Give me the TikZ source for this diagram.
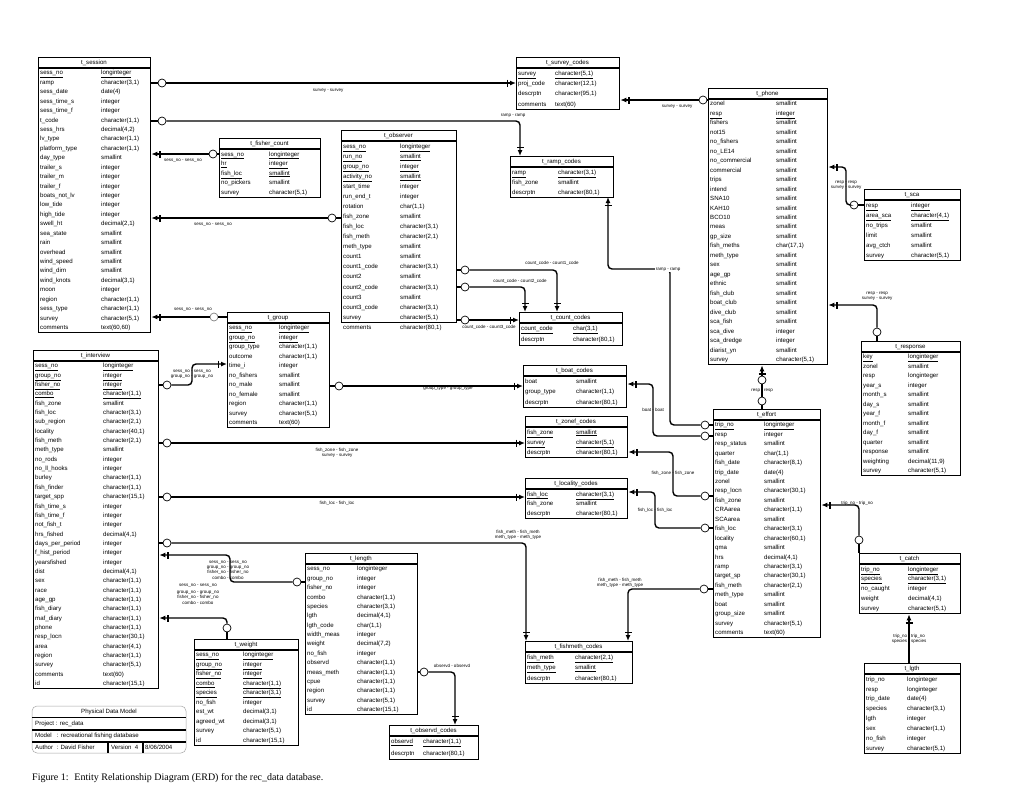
\documentclass[tikz,border=0pt]{standalone}
\usepackage{fontspec}
\setmainfont{Liberation Sans}
\newfontfamily\capfont{Liberation Serif}
\usetikzlibrary{arrows.meta}
\tikzset{
 tbox/.style={draw,line width=1.3pt,inner sep=0,fill=white},
 txt/.style={font=\fontsize{6.1}{7}\selectfont,inner sep=0},
 lbl/.style={font=\fontsize{4.5}{5.3}\selectfont,inner sep=0.3pt,align=center},
 rel/.style={draw,line width=1.4pt,rounded corners=4pt},
 arr/.style={-{Bar[width=7pt,line width=1.2pt,sep=2pt]Latex[length=6pt,width=5pt]}},
 oc/.style={circle,draw,line width=0.7pt,fill=white,minimum size=8pt,inner sep=0},
}
\newcommand\pk[1]{\underline{#1}}
\newcommand\ent[9]{%
 \pgfmathsetmacro\ww{#3-#2}\pgfmathsetmacro\hh{#5-#4}%
 \node[tbox,minimum width=\ww pt,minimum height=\hh pt,anchor=north west] (#1) at (#2,#4) {};
 \draw[line width=1.1pt] (#2,{#4+11}) -- (#3,{#4+11});
 \node[txt,anchor=base] at ({(#2+#3)/2},{#4+7.7}) {#7};
 \pgfmathsetmacro\rh{(#5-#4-11)/#8}%
 \foreach \na/\ty [count=\ii] in {#9} {
  \node[txt,anchor=base west] at ({#2+2},{#4+11+(\ii-0.5)*\rh+2.2}) {\na};
  \node[txt,anchor=base west] at (#6,{#4+11+(\ii-0.5)*\rh+2.2}) {\ty};
 }
}
\begin{document}
\catcode`\_=12
\begin{tikzpicture}[x=1pt,y=-1pt]
\useasboundingbox[fill=white] (0,0) rectangle (1022,796);

\ent{session}{38}{150}{57}{332}{101}{t_session}{28}{{\pk{sess_no}}/{\pk{longinteger}},{ramp}/{character(3,1)},{sess_date}/{date(4)},{sess_time_s}/{integer},{sess_time_f}/{integer},{t_code}/{character(1,1)},{sess_hrs}/{decimal(4,2)},{lv_type}/{character(1,1)},{platform_type}/{character(1,1)},{day_type}/{smallint},{trailer_s}/{integer},{trailer_m}/{integer},{trailer_f}/{integer},{boats_not_lv}/{integer},{low_tide}/{integer},{high_tide}/{integer},{swell_ht}/{decimal(2,1)},{sea_state}/{smallint},{rain}/{smallint},{overhead}/{smallint},{wind_speed}/{smallint},{wind_dirn}/{smallint},{wind_knots}/{decimal(3,1)},{moon}/{integer},{region}/{character(1,1)},{sess_type}/{character(1,1)},{survey}/{character(5,1)},{comments}/{text(60,60)}}

\ent{fisher}{219}{320}{138}{197}{269}{t_fisher_count}{5}{{\pk{sess_no}}/{\pk{longinteger}},{\pk{hr}}/{\pk{integer}},{\pk{fish_loc}}/{\pk{smallint}},{no_pickers}/{smallint},{survey}/{character(5,1)}}

\ent{observer}{341}{456}{130}{322}{400}{t_observer}{18}{{\pk{sess_no}}/{\pk{longinteger}},{\pk{run_no}}/{\pk{smallint}},{\pk{group_no}}/{\pk{integer}},{\pk{activity_no}}/{\pk{smallint}},{start_time}/{integer},{run_end_t}/{integer},{rotation}/{char(1,1)},{fish_zone}/{smallint},{fish_loc}/{character(3,1)},{fish_meth}/{character(2,1)},{meth_type}/{smallint},{count1}/{smallint},{count1_code}/{character(3,1)},{count2}/{smallint},{count2_code}/{character(3,1)},{count3}/{smallint},{count3_code}/{character(3,1)},{survey}/{character(5,1)},{comments}/{character(80,1)}}

\ent{survey}{516}{619}{57}{109}{555}{t_survey_codes}{4}{{\pk{survey}}/{\pk{character(5,1)}},{proj_code}/{character(12,1)},{descrptn}/{character(95,1)},{comments}/{text(60)}}

\ent{ramp}{510}{613}{156}{197}{558}{t_ramp_codes}{3}{{\pk{ramp}}/{\pk{character(3,1)}},{fish_zone}/{smallint},{descrptn}/{character(80,1)}}

\ent{countc}{519}{622}{312}{345}{573}{t_count_codes}{2}{{\pk{count_code}}/{\pk{char(3,1)}},{descrptn}/{character(80,1)}}

\ent{phone}{708}{827}{88}{364}{776}{t_phone}{28}{{zonel}/{smallint},{\pk{resp}}/{\pk{integer}},{fishers}/{smallint},{not15}/{smallint},{no_fishers}/{smallint},{no_LE14}/{smallint},{no_commercial}/{smallint},{commercial}/{smallint},{trips}/{smallint},{intend}/{smallint},{SNA10}/{smallint},{KAH10}/{smallint},{BCO10}/{smallint},{meas}/{smallint},{gp_size}/{smallint},{fish_meths}/{char(17,1)},{meth_type}/{smallint},{sex}/{smallint},{age_gp}/{smallint},{ethnic}/{smallint},{fish_club}/{smallint},{boat_club}/{smallint},{dive_club}/{smallint},{sca_fish}/{smallint},{sca_dive}/{integer},{sca_dredge}/{integer},{diarist_yn}/{smallint},{\pk{survey}}/{\pk{character(5,1)}}}

\ent{sca}{864}{960}{189}{260}{911}{t_sca}{6}{{\pk{resp}}/{\pk{integer}},{\pk{area_sca}}/{\pk{character(4,1)}},{no_trips}/{smallint},{limit}/{smallint},{avg_ctch}/{smallint},{\pk{survey}}/{\pk{character(5,1)}}}

\ent{response}{861}{960}{341}{475}{908}{t_response}{13}{{\pk{key}}/{\pk{longinteger}},{zonel}/{smallint},{resp}/{longinteger},{year_s}/{integer},{month_s}/{smallint},{day_s}/{smallint},{year_f}/{smallint},{month_f}/{smallint},{day_f}/{smallint},{quarter}/{smallint},{response}/{smallint},{weighting}/{decimal(11,9)},{survey}/{character(5,1)}}

\ent{effort}{713}{820}{409}{637}{764}{t_effort}{23}{{\pk{trip_no}}/{\pk{longinteger}},{resp}/{integer},{resp_status}/{smallint},{quarter}/{char(1,1)},{fish_date}/{character(8,1)},{trip_date}/{date(4)},{zonel}/{smallint},{resp_locn}/{character(30,1)},{fish_zone}/{smallint},{CRAarea}/{character(1,1)},{SCAarea}/{smallint},{fish_loc}/{character(3,1)},{locality}/{character(60,1)},{qma}/{smallint},{hrs}/{decimal(4,1)},{ramp}/{character(3,1)},{target_sp}/{character(30,1)},{fish_meth}/{character(2,1)},{meth_type}/{smallint},{boat}/{smallint},{group_size}/{smallint},{survey}/{character(5,1)},{comments}/{text(60)}}

\ent{catch}{859}{960}{553}{613}{908}{t_catch}{5}{{\pk{trip_no}}/{\pk{longinteger}},{\pk{species}}/{\pk{character(3,1)}},{no_caught}/{integer},{weight}/{decimal(4,1)},{survey}/{character(5,1)}}

\ent{lgth}{864}{960}{663}{753}{907}{t_lgth}{8}{{trip_no}/{longinteger},{resp}/{longinteger},{trip_date}/{date(4)},{species}/{character(3,1)},{lgth}/{integer},{sex}/{character(1,1)},{no_fish}/{integer},{survey}/{character(5,1)}}

\ent{fishmeth}{525}{632}{641}{683}{575}{t_fishmeth_codes}{3}{{\pk{fish_meth}}/{\pk{character(2,1)}},{\pk{meth_type}}/{\pk{smallint}},{descrptn}/{character(80,1)}}

\ent{boat}{523}{626}{365}{407}{576}{t_boat_codes}{3}{{boat}/{smallint},{group_type}/{character(1,1)},{descrptn}/{character(80,1)}}

\ent{zonef}{525}{627}{416}{457}{576}{t_zonef_codes}{3}{{\pk{fish_zone}}/{\pk{smallint}},{\pk{survey}}/{\pk{character(5,1)}},{descrptn}/{character(80,1)}}

\ent{locality}{525}{627}{478}{518}{576}{t_locality_codes}{3}{{\pk{fish_loc}}/{\pk{character(3,1)}},{fish_zone}/{smallint},{descrptn}/{character(80,1)}}

\ent{group}{227}{329}{312}{427}{279}{t_group}{11}{{\pk{sess_no}}/{\pk{longinteger}},{\pk{group_no}}/{\pk{integer}},{group_type}/{character(1,1)},{outcome}/{character(1,1)},{time_i}/{integer},{no_fishers}/{smallint},{no_male}/{smallint},{no_female}/{smallint},{region}/{character(1,1)},{survey}/{character(5,1)},{comments}/{text(60)}}

\ent{interview}{33}{158}{350}{688}{103}{t_interview}{35}{{\pk{sess_no}}/{\pk{longinteger}},{\pk{group_no}}/{\pk{integer}},{\pk{fisher_no}}/{\pk{integer}},{\pk{combo}}/{\pk{character(1,1)}},{fish_zone}/{smallint},{fish_loc}/{character(3,1)},{sub_region}/{character(2,1)},{locality}/{character(40,1)},{fish_meth}/{character(2,1)},{meth_type}/{smallint},{no_rods}/{integer},{no_ll_hooks}/{integer},{burley}/{character(1,1)},{fish_finder}/{character(1,1)},{target_spp}/{character(15,1)},{fish_time_s}/{integer},{fish_time_f}/{integer},{not_fish_t}/{integer},{hrs_fished}/{decimal(4,1)},{days_per_period}/{integer},{f_hist_period}/{integer},{yearsfished}/{integer},{dist}/{decimal(4,1)},{sex}/{character(1,1)},{race}/{character(1,1)},{age_gp}/{character(1,1)},{fish_diary}/{character(1,1)},{maf_diary}/{character(1,1)},{phone}/{character(1,1)},{resp_locn}/{character(30,1)},{area}/{character(4,1)},{region}/{character(1,1)},{survey}/{character(5,1)},{comments}/{text(60)},{id}/{character(15,1)}}

\ent{length}{305}{417}{553}{714}{357}{t_length}{16}{{sess_no}/{longinteger},{group_no}/{integer},{fisher_no}/{integer},{combo}/{character(1,1)},{species}/{character(3,1)},{lgth}/{decimal(4,1)},{lgth_code}/{char(1,1)},{width_meas}/{integer},{weight}/{decimal(7,2)},{no_fish}/{integer},{observd}/{character(1,1)},{meas_meth}/{character(1,1)},{cpue}/{character(1,1)},{region}/{character(1,1)},{survey}/{character(5,1)},{id}/{character(15,1)}}

\ent{weight}{194}{298}{639}{745}{243}{t_weight}{10}{{\pk{sess_no}}/{\pk{longinteger}},{\pk{group_no}}/{\pk{integer}},{\pk{fisher_no}}/{\pk{integer}},{\pk{combo}}/{\pk{character(1,1)}},{\pk{species}}/{\pk{character(3,1)}},{no_fish}/{integer},{est_wt}/{decimal(3,1)},{agreed_wt}/{decimal(3,1)},{survey}/{character(5,1)},{id}/{character(15,1)}}

\ent{observd}{389}{478}{725}{759}{423}{t_observd_codes}{2}{{\pk{observd}}/{\pk{character(1,1)}},{descrptn}/{character(80,1)}}

% circles
\node[oc] (c1) at (162,83) {};
\node[oc] (c2) at (162,121) {};
\node[oc] (c3) at (213,154) {};
\node[oc] (c4) at (332,218) {};
\node[oc,draw=gray] (c5) at (214,317) {};
\node[oc] (c6) at (703,100) {};
\node[oc] (c7) at (705,425) {};
\node[oc] (c8) at (465,270) {};
\node[oc] (c9) at (465,287) {};
\node[oc] (c10) at (465,320) {};
\node[oc] (c11) at (339,386) {};
\node[oc] (c12) at (167,385) {};
\node[oc] (c13) at (167,443) {};
\node[oc] (c14) at (167,497) {};
\node[oc] (c15) at (167,543) {};
\node[oc] (c16) at (704,589) {};
\node[oc] (c17) at (297,582) {};
\node[oc] (c18) at (227,628) {};
\node[oc] (c19) at (424,672) {};
\node[oc] (c20) at (854,205) {};
\node[oc] (c21) at (877,332) {};
\node[oc] (c22a) at (762,401) {};
\node[oc] (c22b) at (762,380) {};
\node[oc] (c23) at (705,436) {};
\node[oc] (c24) at (705,496) {};
\node[oc] (c25) at (705,528) {};
\node[oc] (c26) at (859,540) {};

\coordinate (rampin) at (520,156);
\coordinate (k7a) at (670,269);
\coordinate (rampout) at (608,197);
\coordinate (cc1) at (557,312);
\coordinate (cc2) at (525,312);
\coordinate (k12) at (192,364);
\coordinate (fm1) at (526,641);
\coordinate (fm2) at (628,641);
\coordinate (k17) at (230,555);
\coordinate (k18) at (200,618);
\coordinate (ob) at (455,725);
\coordinate (k20) at (846,167);
\coordinate (k21) at (877,305);
\coordinate (k23) at (653,384);
\coordinate (k24) at (673,452);
\coordinate (k25) at (655,492);
\coordinate (k26) at (859,505);
\coordinate (k27) at (909,600);

% stubs
\draw[rel] (session.east |- c1) -- (c1.west);
\draw[rel] (session.east |- c2) -- (c2.west);
\draw[rel] (fisher.west |- c3) -- (c3.east);
\draw[rel] (observer.west |- c4) -- (c4.east);
\draw[rel] (group.west |- c5) -- (c5.east);
\draw[rel] (phone.west |- c6) -- (c6.east);
\draw[rel] (effort.west |- c7) -- (c7.east);
\draw[rel] (observer.east |- c8) -- (c8.west);
\draw[rel] (observer.east |- c9) -- (c9.west);
\draw[rel] (observer.east |- c10) -- (c10.west);
\draw[rel] (group.east |- c11) -- (c11.west);
\draw[rel] (interview.east |- c12) -- (c12.west);
\draw[rel] (interview.east |- c13) -- (c13.west);
\draw[rel] (interview.east |- c14) -- (c14.west);
\draw[rel] (interview.east |- c15) -- (c15.west);
\draw[rel] (effort.west |- c16) -- (c16.east);
\draw[rel] (length.west |- c17) -- (c17.east);
\draw[rel] (weight.north -| c18) -- (c18.south);
\draw[rel] (length.east |- c19) -- (c19.west);
\draw[rel] (sca.west |- c20) -- (c20.east);
\draw[rel] (response.north -| c21) -- (c21.south);
\draw[rel] (effort.north -| c22a) -- (c22a.south);
\draw[rel] (c22a.north) -- (c22b.south);
\draw[rel] (effort.west |- c23) -- (c23.east);
\draw[rel] (effort.west |- c24) -- (c24.east);
\draw[rel] (effort.west |- c25) -- (c25.east);
\draw[rel] (catch.north -| c26) -- (c26.south);

% relationships
\draw[rel,arr] (c1.east) -- (survey.west |- c1);
\draw[rel,arr] (c2.east) -| (rampin);
\draw[rel,arr] (c3.west) -- (session.east |- c3);
\draw[rel,arr] (c4.west) -- (session.east |- c4);
\draw[rel,arr] (c5.west) -- (session.east |- c5);
\draw[rel,arr] (c6.west) -- (survey.east |- c6);
\draw[rel,arr] (c7.west) -| (k7a) -| (rampout);
\draw[rel,arr] (c8.east) -| (cc1);
\draw[rel,arr] (c9.east) -| (cc2);
\draw[rel,arr] (c10.east) -- (countc.west |- c10);
\draw[rel,arr] (c11.east) -- (boat.west |- c11);
\draw[rel,arr] (c12.east) -| (k12) -- (group.west |- k12);
\draw[rel,arr] (c13.east) -- (zonef.west |- c13);
\draw[rel,arr] (c14.east) -- (locality.west |- c14);
\draw[rel,arr] (c15.east) -| (fm1);
\draw[rel,arr] (c16.west) -| (fm2);
\draw[rel,arr] (c17.west) -| (k17) -- (interview.east |- k17);
\draw[rel,arr] (c18.north) |- (interview.east |- k18);
\draw[rel,arr] (c19.east) -| (ob);
\draw[rel,arr] (c20.west) -| (k20) -- (phone.east |- k20);
\draw[rel,arr] (c21.north) |- (phone.east |- k21);
\draw[rel,arr] (c22b.north) -- (phone.south -| c22b);
\draw[rel,arr] (c23.west) -| (k23) -- (boat.east |- k23);
\draw[rel,arr] (c24.west) -| (k24) -- (zonef.east |- k24);
\draw[rel,arr] (c25.west) -| (k25) -- (locality.east |- k25);
\draw[rel,arr] (c26.north) |- (effort.east |- k26);
\draw[rel,arr] (lgth.north -| k27) -- (catch.south -| k27);

% labels
\node[lbl] (l1) at (328,91) {survey - survey};
\node[lbl] (l2) at (513,116) {ramp - ramp};
\node[lbl] (l3) at (183,161) {sess_no - sess_no};
\node[lbl] (l4) at (213,225) {sess_no - sess_no};
\node[lbl] (l5) at (193,310) {sess_no - sess_no};
\node[lbl] (l6) at (677,107) {survey - survey};
\node[lbl,fill=white] (l7) at (668,270) {ramp - ramp};
\node[lbl] (l8) at (552,263) {count_code - count1_code};
\node[lbl] (l9) at (520,281) {count_code - count2_code};
\node[lbl] (l10) at (489,327) {count_code - count3_code};
\node[lbl] (l11) at (448,389) {group_type - group_type};
\node[lbl] (l12) at (192,374) {sess_no - sess_no\\group_no - group_no};
\node[lbl] (l13) at (337,453) {fish_zone - fish_zone\\survey - survey};
\node[lbl] (l14) at (337,503) {fish_loc - fish_loc};
\node[lbl] (l15) at (518,535) {fish_meth - fish_meth\\meth_type - meth_type};
\node[lbl] (l16) at (620,583) {fish_meth - fish_meth\\meth_type - meth_type};
\node[lbl] (l17) at (228,570) {sess_no - sess_no\\group_no - group_no\\fisher_no - fisher_no\\combo - combo};
\node[lbl] (l18) at (198,594) {sess_no - sess_no\\[2pt]group_no - group_no\\fisher_no - fisher_no\\combo - combo};
\node[lbl] (l19) at (452,666) {observd - observd};
\node[lbl] (l20) at (846,185) {resp - resp\\survey - survey};
\node[lbl] (l21) at (877,296) {resp - resp\\survey - survey};
\node[lbl] (l22) at (762,390.5) {resp - resp};
\node[lbl] (l23) at (653,410) {boat - boat};
\node[lbl] (l24) at (673,473) {fish_zone - fish_zone};
\node[lbl] (l25) at (655,510) {fish_loc - fish_loc};
\node[lbl] (l26) at (857,503) {trip_no - trip_no};
\node[lbl] (l27) at (909,639) {trip_no - trip_no\\species - species};

% title block
\draw[gray!70,line width=0.5pt,rounded corners=5pt] (32,706) rectangle (186,753);
\draw[line width=0.5pt] (32,717) -- (186,717);
\draw[line width=1.1pt] (32,730) -- (186,730);
\draw[line width=1.1pt] (32,742) -- (186,742);
\draw[line width=1.1pt] (108,742) -- (108,753);
\draw[line width=1.1pt] (143,742) -- (143,753);
\node[txt] (tb0) at (109,711.5) {Physical Data Model};
\node[txt,anchor=west] (tb1) at (35,723.5) {Project : rec_data};
\node[txt,anchor=west] (tb2) at (35,736) {Model \ \ : recreational fishing database};
\node[txt,anchor=west] (tb3) at (35,747.5) {Author \ : David Fisher};
\node[txt,anchor=west] (tb4) at (111,747.5) {Version \ 4};
\node[txt,anchor=west] (tb5) at (145,747.5) {8/06/2004};

\node[font=\capfont\fontsize{10}{12}\selectfont,anchor=west,inner sep=0] (cap) at (32,778) {Figure 1: \ Entity Relationship Diagram (ERD) for the rec_data database.};
\end{tikzpicture}
\end{document}
